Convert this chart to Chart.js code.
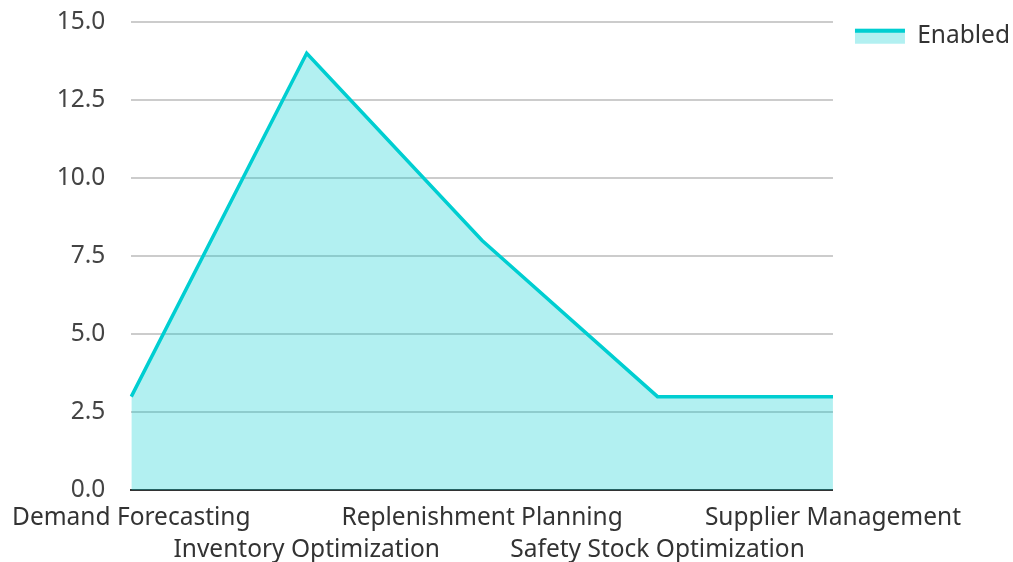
<!DOCTYPE html>
<html>
<head>
<meta charset="utf-8">
<script src="https://cdn.jsdelivr.net/npm/chart.js@4/dist/chart.umd.min.js"></script>
<style>
html,body{margin:0;padding:0;background:#fff;}
#wrap{width:1013px;height:562px;}
</style>
</head>
<body>
<div id="wrap"><canvas id="c"></canvas></div>
<script>
const categories = ["Demand Forecasting","Inventory Optimization","Replenishment Planning","Safety Stock Optimization","Supplier Management"];
const enabledValues = [3, 14, 8, 3, 3];
const seriesName = "Enabled";
const yMin = 0, yMax = 15, yStep = 2.5;

const lineColor = "#00CED1";
const fillColor = "rgba(0,206,209,0.3)";
const FS = 24.5;

const legendTopLine = {
  id: "legendTopLine",
  afterDraw(chart) {
    const lg = chart.legend;
    if (!lg || !lg.legendHitBoxes || !lg.legendHitBoxes.length) return;
    const hb = lg.legendHitBoxes[0];
    const ctx = chart.ctx;
    const bw = lg.options.labels.boxWidth;
    const bh = lg.options.labels.boxHeight;
    ctx.save();
    ctx.fillStyle = lineColor;
    ctx.fillRect(hb.left, hb.top + (hb.height - bh) / 2, bw, 4);
    ctx.restore();
  }
};

new Chart(document.getElementById("c"), {
  type: "line",
  data: {
    labels: categories,
    datasets: [{
      label: seriesName,
      data: enabledValues,
      borderColor: lineColor,
      backgroundColor: fillColor,
      borderWidth: 3.5,
      fill: "origin",
      tension: 0,
      pointRadius: 0,
      pointHoverRadius: 0
    }]
  },
  plugins: [legendTopLine],
  options: {
    responsive: true,
    maintainAspectRatio: false,
    animation: false,
    layout: { padding: { top: 2, right: -7, left: 0, bottom: -16 } },
    font: { family: "'Noto Sans', sans-serif", size: FS },
    plugins: {
      tooltip: { enabled: false },
      legend: {
        position: "right",
        align: "start",
        labels: {
          boxWidth: 50,
          boxHeight: 15,
          color: "#333",
          padding: 22,
          font: { family: "'Noto Sans', sans-serif", size: FS },
          generateLabels(chart) {
            const items = Chart.defaults.plugins.legend.labels.generateLabels(chart);
            items.forEach(it => { it.lineWidth = 0; it.strokeStyle = "rgba(0,0,0,0)"; });
            return items;
          }
        }
      }
    },
    scales: {
      x: {
        offset: false,
        grid: { display: false, drawTicks: false },
        border: { display: true, color: "#333", width: 2 },
        ticks: {
          autoSkip: false,
          maxRotation: 0,
          minRotation: 0,
          padding: 12,
          color: "#333",
          font: { family: "'Noto Sans', sans-serif", size: FS, lineHeight: 1.3 },
          callback(v, i) { const l = categories[i]; return i % 2 ? ["", l] : l; }
        }
      },
      y: {
        min: yMin,
        max: yMax,
        grid: { color: "#cccccc", lineWidth: 2, drawTicks: false },
        border: { display: false },
        afterFit(scale) { scale.paddingTop = 22; },
        ticks: {
          stepSize: yStep,
          padding: 26,
          color: "#444",
          font: { family: "'Noto Sans', sans-serif", size: FS },
          callback(v) { return Number(v).toFixed(1); }
        }
      }
    }
  }
});
</script>
</body>
</html>
